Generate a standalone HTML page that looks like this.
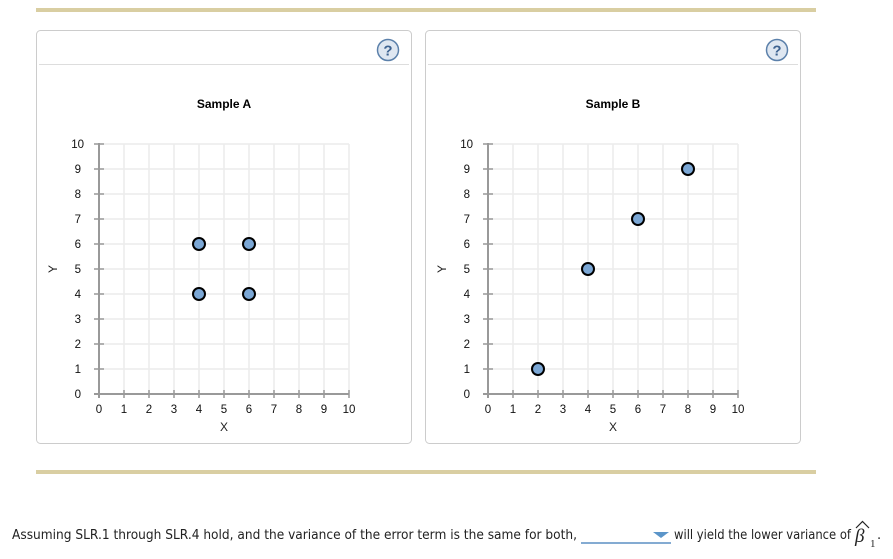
<!DOCTYPE html>
<html><head><meta charset="utf-8"><style>
html,body{margin:0;padding:0;background:#fff;}
svg{display:block;}
text{font-family:"Liberation Sans",Arial,sans-serif;}
</style></head><body>
<svg width="893" height="559" viewBox="0 0 893 559" xmlns="http://www.w3.org/2000/svg">
<rect x="0" y="0" width="893" height="559" fill="#fff"/>
<!-- top bar -->
<rect x="36" y="8" width="780" height="4" fill="#d9cea2"/>
<!-- bottom bar -->
<rect x="36" y="470" width="780" height="4" fill="#d9cea2"/>

<!-- panels -->
<rect x="36.5" y="30.5" width="375" height="413" rx="4" fill="#fff" stroke="#cccccc"/>
<line x1="39" y1="64.5" x2="409" y2="64.5" stroke="#dddddd"/>
<rect x="425.5" y="30.5" width="375" height="413" rx="4" fill="#fff" stroke="#cccccc"/>
<line x1="428" y1="64.5" x2="798" y2="64.5" stroke="#dddddd"/>

<!-- help icons -->
<circle cx="388" cy="50" r="10.5" fill="#dfe7f1" stroke="#5b80aa" stroke-width="1.5"/>
<text x="388" y="55.5" font-size="15" font-weight="bold" fill="#3d6290" text-anchor="middle">?</text>
<circle cx="777" cy="50" r="10.5" fill="#dfe7f1" stroke="#5b80aa" stroke-width="1.5"/>
<text x="777" y="55.5" font-size="15" font-weight="bold" fill="#3d6290" text-anchor="middle">?</text>

<!-- titles -->
<text x="224" y="108" font-size="12" font-weight="bold" fill="#000" text-anchor="middle">Sample A</text>
<text x="613" y="108" font-size="12" font-weight="bold" fill="#000" text-anchor="middle">Sample B</text>

<!-- LEFT CHART -->
<g>
<path d="M124 144V394M149 144V394M174 144V394M199 144V394M224 144V394M249 144V394M274 144V394M299 144V394M324 144V394M349 144V394M99 369H349M99 344H349M99 319H349M99 294H349M99 269H349M99 244H349M99 219H349M99 194H349M99 169H349M99 144H349" stroke="#ececec" stroke-width="1.5" fill="none"/>
<path d="M99 143V398M94 394H349" stroke="#999" stroke-width="2" fill="none"/>
<path d="M94 394H104M94 369H104M94 344H104M94 319H104M94 294H104M94 269H104M94 244H104M94 219H104M94 194H104M94 169H104M94 144H104M99 390V398M124 390V398M149 390V398M174 390V398M199 390V398M224 390V398M249 390V398M274 390V398M299 390V398M324 390V398M349 390V398" stroke="#999" stroke-width="1.5" fill="none"/>
<g font-size="11.5" fill="#111" text-anchor="end">
<text x="81" y="398">0</text><text x="81" y="373">1</text><text x="81" y="348">2</text><text x="81" y="323">3</text><text x="81" y="298">4</text><text x="81" y="273">5</text><text x="81" y="248">6</text><text x="81" y="223">7</text><text x="81" y="198">8</text><text x="81" y="173">9</text><text x="84" y="148">10</text>
</g>
<g font-size="11.5" fill="#111" text-anchor="middle">
<text x="99" y="413">0</text><text x="124" y="413">1</text><text x="149" y="413">2</text><text x="174" y="413">3</text><text x="199" y="413">4</text><text x="224" y="413">5</text><text x="249" y="413">6</text><text x="274" y="413">7</text><text x="299" y="413">8</text><text x="324" y="413">9</text><text x="349" y="413">10</text>
</g>
<text x="224" y="431" font-size="12" fill="#222" text-anchor="middle">X</text>
<text transform="translate(57,269) rotate(-90)" font-size="12" fill="#222" text-anchor="middle">Y</text>
<g fill="#7ba7d5" stroke="#000" stroke-width="2">
<circle cx="199" cy="294" r="6"/><circle cx="199" cy="244" r="6"/><circle cx="249" cy="294" r="6"/><circle cx="249" cy="244" r="6"/>
</g>
</g>

<!-- RIGHT CHART -->
<g transform="translate(389,0)">
<path d="M124 144V394M149 144V394M174 144V394M199 144V394M224 144V394M249 144V394M274 144V394M299 144V394M324 144V394M349 144V394M99 369H349M99 344H349M99 319H349M99 294H349M99 269H349M99 244H349M99 219H349M99 194H349M99 169H349M99 144H349" stroke="#ececec" stroke-width="1.5" fill="none"/>
<path d="M99 143V398M94 394H349" stroke="#999" stroke-width="2" fill="none"/>
<path d="M94 394H104M94 369H104M94 344H104M94 319H104M94 294H104M94 269H104M94 244H104M94 219H104M94 194H104M94 169H104M94 144H104M99 390V398M124 390V398M149 390V398M174 390V398M199 390V398M224 390V398M249 390V398M274 390V398M299 390V398M324 390V398M349 390V398" stroke="#999" stroke-width="1.5" fill="none"/>
<g font-size="11.5" fill="#111" text-anchor="end">
<text x="81" y="398">0</text><text x="81" y="373">1</text><text x="81" y="348">2</text><text x="81" y="323">3</text><text x="81" y="298">4</text><text x="81" y="273">5</text><text x="81" y="248">6</text><text x="81" y="223">7</text><text x="81" y="198">8</text><text x="81" y="173">9</text><text x="84" y="148">10</text>
</g>
<g font-size="11.5" fill="#111" text-anchor="middle">
<text x="99" y="413">0</text><text x="124" y="413">1</text><text x="149" y="413">2</text><text x="174" y="413">3</text><text x="199" y="413">4</text><text x="224" y="413">5</text><text x="249" y="413">6</text><text x="274" y="413">7</text><text x="299" y="413">8</text><text x="324" y="413">9</text><text x="349" y="413">10</text>
</g>
<text x="224" y="431" font-size="12" fill="#222" text-anchor="middle">X</text>
<text transform="translate(57,269) rotate(-90)" font-size="12" fill="#222" text-anchor="middle">Y</text>
<g fill="#7ba7d5" stroke="#000" stroke-width="2">
<circle cx="149" cy="369" r="6"/><circle cx="199" cy="269" r="6"/><circle cx="249" cy="219" r="6"/><circle cx="299" cy="169" r="6"/>
</g>
</g>

<!-- bottom sentence -->
<text x="12" y="539" font-size="13" fill="#222" style="font-family:'DejaVu Sans','Liberation Sans',sans-serif" textLength="565" lengthAdjust="spacingAndGlyphs">Assuming SLR.1 through SLR.4 hold, and the variance of the error term is the same for both,</text>
<line x1="581" y1="543" x2="671" y2="543" stroke="#5b8fc4" stroke-width="1.5"/>
<polygon points="653,532 669,532 661,538" fill="#5b95c9"/>
<text x="674" y="539" font-size="13" fill="#222" style="font-family:'DejaVu Sans','Liberation Sans',sans-serif" textLength="177" lengthAdjust="spacingAndGlyphs">will yield the lower variance of</text>
<text x="855" y="542" font-size="19" font-style="italic" fill="#222" style="font-family:'Liberation Serif',serif">β</text>
<path d="M856 528 L862.5 521.5 L869 528" stroke="#222" stroke-width="1.2" fill="none"/>
<text x="870" y="547" font-size="11" fill="#222" style="font-family:'Liberation Serif',serif">1</text>
<text x="877" y="539" font-size="13" fill="#222" style="font-family:'DejaVu Sans',sans-serif">.</text>
</svg>
</body></html>
